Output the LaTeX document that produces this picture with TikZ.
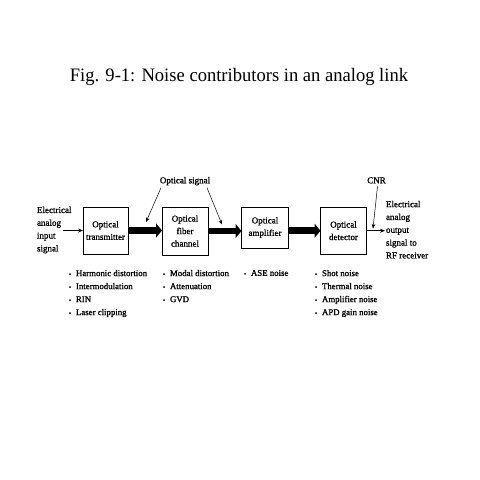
\documentclass[tikz,border=0pt]{standalone}
\usepackage{fontspec}
\setmainfont{Liberation Serif}
\newfontfamily\heavy[FakeBold=1.3]{Liberation Serif}
\usetikzlibrary{arrows.meta}
\newcommand\bul{\makebox[7pt][l]{\fontsize{6}{6}\selectfont •}}
\begin{document}
\begin{tikzpicture}[x=1pt,y=-1pt,
  box/.style={draw,line width=0.9pt,inner sep=0pt,outer sep=0pt,align=center,font=\heavy\fontsize{9}{12.5}\selectfont},
  lbl/.style={inner sep=0pt,outer sep=0pt,align=left,font=\heavy\fontsize{9}{12.8}\selectfont},
  lst/.style={inner sep=0pt,outer sep=0pt,anchor=north west,align=left,font=\heavy\fontsize{8.8}{13}\selectfont},
  bigarrow/.style={line width=6.5pt,-{Triangle[length=6pt,width=14pt]}},
  thinarrow/.style={line width=0.7pt,-{Stealth[length=5pt,width=4pt]}},
  pointer/.style={line width=0.5pt,-{Stealth[length=4.5pt,width=3.5pt]}}]
\useasboundingbox[fill=white] (0,0) rectangle (480,480);

\node[font=\fontsize{19}{22}\selectfont,anchor=base,inner sep=0pt] (title) at (239,81) {\scalebox{0.977}[1]{Fig. 9-1: Noise contributors in an analog link}};

% boxes
\node[box,minimum width=45pt,minimum height=47pt] (tx) at (105.5,230.5) {Optical\\transmitter};
\node[box,minimum width=46pt,minimum height=48pt] (fib) at (185,231) {Optical\\fiber\\channel};
\node[box,minimum width=47pt,minimum height=41pt] (amp) at (265,227.5) {Optical\\amplifier};
\node[box,minimum width=46pt,minimum height=47pt] (det) at (343.5,230.7) {Optical\\detector};

% side labels
\node[lbl,anchor=west] (inlbl) at (37,230) {Electrical\\analog\\input\\signal};
\node[lbl,anchor=west] (outlbl) at (386,229.7) {Electrical\\analog\\output\\signal to\\RF receiver};
\node[lbl,anchor=base] (sig) at (185,183.3) {Optical signal};
\node[lbl,anchor=base] (cnr) at (376.5,183.3) {CNR};

% connectors
\coordinate (inStart) at (63,230.5);
\coordinate (outEnd) at (385,230.7);
\draw[thinarrow] (inStart) -- (tx.west);
\draw[thinarrow] (det.east) -- (outEnd);
\draw[bigarrow] (tx.east) -- (tx.east -| fib.west);
\draw[bigarrow] (fib.east) -- (fib.east -| amp.west);
\draw[bigarrow] (det.west -| amp.east) -- (det.west);

\coordinate (p1) at (146,222);
\coordinate (p2) at (222,224.5);
\coordinate (p3) at (373,228.5);
\draw[pointer] ([xshift=-24pt,yshift=-2.5pt]sig.south) -- (p1);
\draw[pointer] ([xshift=22pt,yshift=-2.5pt]sig.south) -- (p2);
\draw[pointer] ([xshift=1pt,yshift=-3pt]cnr.south) -- (p3);

% lists
\node[lst] (l1) at (69,270) {\bul Harmonic distortion\\\bul Intermodulation\\\bul RIN\\\bul Laser clipping};
\node[lst] (l2) at (163,270) {\bul Modal distortion\\\bul Attenuation\\\bul GVD};
\node[lst] (l3) at (244,270) {\bul ASE noise};
\node[lst] (l4) at (315,270) {\bul Shot noise\\\bul Thermal noise\\\bul Amplifier noise\\\bul APD gain noise};
\end{tikzpicture}
\end{document}
